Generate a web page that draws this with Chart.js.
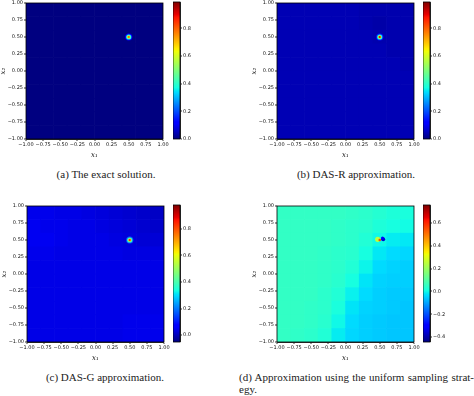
<!DOCTYPE html>
<html>
<head>
<meta charset="utf-8">
<script src="https://cdn.jsdelivr.net/npm/chart.js@4"></script>
<style>
body { margin: 0; background: #fff; width: 474px; height: 396px; position: relative; overflow: hidden; }
canvas { position: absolute; }
.cap { position: absolute; font-family: 'Liberation Serif', serif; font-size: 11px; line-height: 12px; color: #222; white-space: nowrap; }
</style>
</head>
<body>
<div class="cap" style="left:106px;top:168px;transform:translateX(-50%)">(a) The exact solution.</div>
<div class="cap" style="left:356px;top:168px;transform:translateX(-50%)">(b) DAS-R approximation.</div>
<div class="cap" style="left:105px;top:371px;transform:translateX(-50%)">(c) DAS-G approximation.</div>
<div class="cap" style="left:239px;top:371px;width:235px;text-align:justify;text-align-last:justify">(d) Approximation using the uniform sampling strat-</div>
<div class="cap" style="left:239px;top:383px">egy.</div>
<script>
// axes ticks (x1, x2 share the same labels)
const axisTicks = [-1, -0.75, -0.5, -0.25, 0, 0.25, 0.5, 0.75, 1];
const axisLabels = ['−1.00', '−0.75', '−0.50', '−0.25', '0.00', '0.25', '0.50', '0.75', '1.00'];

// cell centres of the coarse grid
const cellX = [-0.9, -0.7, -0.5, -0.3, -0.1, 0.1, 0.3, 0.5, 0.7, 0.9];
const cellY = [0.9, 0.7, 0.5, 0.3, 0.1, -0.1, -0.3, -0.5, -0.7, -0.9];

// (a) exact solution
const gridA = [
  [0, 0, 0, 0, 0, 0, 0, 0, 0, 0],
  [0, 0, 0, 0, 0, 0, 0, 0, 0, 0],
  [0, 0, 0, 0, 0, 0, 0, 0, 0, 0],
  [0, 0, 0, 0, 0, 0, 0, 0, 0, 0],
  [0, 0, 0, 0, 0, 0, 0, 0, 0, 0],
  [0, 0, 0, 0, 0, 0, 0, 0, 0, 0],
  [0, 0, 0, 0, 0, 0, 0, 0, 0, 0],
  [0, 0, 0, 0, 0, 0, 0, 0, 0, 0],
  [0, 0, 0, 0, 0, 0, 0, 0, 0, 0],
  [0, 0, 0, 0, 0, 0, 0, 0, 0, 0]
];
// (b) DAS-R
const gridB = [
  [0.045, 0.045, 0.045, 0.045, 0.045, 0.045, 0.04, 0.04, 0.04, 0.04],
  [0.045, 0.045, 0.045, 0.045, 0.045, 0.045, 0.04, 0.035, 0.04, 0.04],
  [0.045, 0.045, 0.045, 0.045, 0.045, 0.045, 0.045, 0.04, 0.04, 0.04],
  [0.045, 0.045, 0.045, 0.045, 0.045, 0.045, 0.045, 0.045, 0.04, 0.04],
  [0.045, 0.045, 0.045, 0.045, 0.045, 0.045, 0.045, 0.045, 0.045, 0.04],
  [0.045, 0.045, 0.045, 0.045, 0.045, 0.045, 0.045, 0.045, 0.045, 0.045],
  [0.045, 0.045, 0.045, 0.045, 0.045, 0.045, 0.045, 0.045, 0.045, 0.045],
  [0.045, 0.045, 0.045, 0.045, 0.045, 0.045, 0.045, 0.045, 0.045, 0.045],
  [0.045, 0.045, 0.045, 0.045, 0.045, 0.045, 0.045, 0.045, 0.045, 0.045],
  [0.045, 0.045, 0.045, 0.045, 0.045, 0.045, 0.045, 0.045, 0.045, 0.045]
];
// (c) DAS-G
const gridC = [
  [0.045, 0.045, 0.04, 0.04, 0.035, 0.03, 0.025, 0.02, 0.015, 0.01],
  [0.05, 0.045, 0.045, 0.04, 0.04, 0.035, 0.03, 0.025, 0.02, 0.015],
  [0.05, 0.05, 0.045, 0.04, 0.04, 0.04, 0.035, 0.03, 0.025, 0.025],
  [0.045, 0.045, 0.04, 0.04, 0.04, 0.04, 0.04, 0.035, 0.035, 0.035],
  [0.04, 0.04, 0.04, 0.04, 0.04, 0.04, 0.04, 0.04, 0.04, 0.04],
  [0.04, 0.04, 0.04, 0.04, 0.04, 0.04, 0.04, 0.04, 0.04, 0.04],
  [0.04, 0.04, 0.04, 0.04, 0.04, 0.04, 0.04, 0.04, 0.04, 0.04],
  [0.04, 0.04, 0.04, 0.04, 0.04, 0.04, 0.04, 0.04, 0.04, 0.04],
  [0.04, 0.04, 0.04, 0.04, 0.04, 0.04, 0.04, 0.045, 0.045, 0.045],
  [0.04, 0.04, 0.04, 0.04, 0.04, 0.04, 0.04, 0.045, 0.045, 0.045]
];
// (d) uniform sampling
const gridD = [
  [0.05, 0.05, 0.05, 0.05, 0.05, 0.045, 0.04, 0.03, 0.02, 0.015],
  [0.05, 0.05, 0.05, 0.05, 0.045, 0.04, 0.035, 0.02, 0.01, 0.005],
  [0.05, 0.05, 0.05, 0.05, 0.045, 0.04, 0.025, 0.0, -0.015, -0.02],
  [0.05, 0.05, 0.05, 0.045, 0.04, 0.035, 0.01, -0.02, -0.035, -0.04],
  [0.05, 0.05, 0.05, 0.045, 0.04, 0.025, -0.005, -0.035, -0.045, -0.05],
  [0.05, 0.05, 0.05, 0.045, 0.035, 0.01, -0.025, -0.045, -0.05, -0.05],
  [0.05, 0.05, 0.05, 0.04, 0.025, -0.01, -0.035, -0.05, -0.055, -0.055],
  [0.05, 0.05, 0.045, 0.04, 0.015, -0.025, -0.045, -0.05, -0.055, -0.06],
  [0.05, 0.05, 0.045, 0.035, 0.0, -0.035, -0.05, -0.055, -0.06, -0.06],
  [0.05, 0.045, 0.04, 0.025, -0.015, -0.04, -0.05, -0.055, -0.06, -0.06]
];

// the sharp peak at (0.5, 0.5)
const spikeXA = [0.5, 0.5, 0.5, 0.5], spikeYA = [0.5, 0.5, 0.5, 0.5], spikeVA = [0.12, 0.38, 0.62, 0.8];
const spikeXB = [0.5, 0.5, 0.5, 0.5], spikeYB = [0.5, 0.5, 0.5, 0.5], spikeVB = [0.15, 0.38, 0.65, 0.9];
const spikeXC = [0.5, 0.5, 0.5, 0.5], spikeYC = [0.5, 0.5, 0.5, 0.5], spikeVC = [0.17, 0.38, 0.65, 0.85];
const spikeXD = [0.47, 0.55, 0.54, 0.5], spikeYD = [0.51, 0.51, 0.53, 0.5], spikeVD = [0.25, -0.35, -0.3, 0.55];

// colour bar ranges and ticks
const cbRangeA = [0, 0.99], cbTicksA = [0, 0.2, 0.4, 0.6, 0.8], cbLabelsA = ['0.0', '0.2', '0.4', '0.6', '0.8'];
const cbRangeB = [0, 0.99], cbTicksB = [0, 0.2, 0.4, 0.6, 0.8], cbLabelsB = ['0.0', '0.2', '0.4', '0.6', '0.8'];
const cbRangeC = [-0.052, 0.98], cbTicksC = [0, 0.2, 0.4, 0.6, 0.8], cbLabelsC = ['0.0', '0.2', '0.4', '0.6', '0.8'];
const cbRangeD = [-0.443, 0.757], cbTicksD = [-0.4, -0.2, 0, 0.2, 0.4, 0.6], cbLabelsD = ['−0.4', '−0.2', '0.0', '0.2', '0.4', '0.6'];

// matplotlib "jet"
const jetR = [[0, 0], [0.35, 0], [0.66, 1], [0.89, 1], [1, 0.5]];
const jetG = [[0, 0], [0.125, 0], [0.375, 1], [0.64, 1], [0.91, 0], [1, 0]];
const jetB = [[0, 0.5], [0.11, 1], [0.34, 1], [0.65, 0], [1, 0]];
function seg(s, t) {
  for (let i = 1; i < s.length; i++) {
    if (t <= s[i][0]) {
      const f = (t - s[i - 1][0]) / (s[i][0] - s[i - 1][0]);
      return s[i - 1][1] + f * (s[i][1] - s[i - 1][1]);
    }
  }
  return s[s.length - 1][1];
}
function jet(t) {
  t = Math.max(0, Math.min(1, t));
  return 'rgb(' + Math.round(255 * seg(jetR, t)) + ',' + Math.round(255 * seg(jetG, t)) + ',' + Math.round(255 * seg(jetB, t)) + ')';
}

const tickFont = { family: 'DejaVu Sans', size: 5 };
const titleFont = { family: 'DejaVu Serif', style: 'italic', size: 7 };

const frame = {
  id: 'frame',
  afterDatasetsDraw(chart) {
    const a = chart.chartArea, c = chart.ctx;
    c.save();
    c.strokeStyle = '#000';
    c.lineWidth = 0.8;
    c.strokeRect(a.left, a.top, a.right - a.left, a.bottom - a.top);
    c.restore();
  }
};

function axisOpts(title, isX) {
  return {
    type: 'linear', min: -1, max: 1, offset: false,
    afterBuildTicks: s => { s.ticks = axisTicks.map(v => ({ value: v })); },
    afterFit: s => {
      if (isX) s.height = 22; else s.width = 27;
      s.paddingLeft = s.paddingRight = s.paddingTop = s.paddingBottom = 0;
    },
    ticks: { callback: (v, i) => axisLabels[i], font: tickFont, color: '#111', padding: 1, autoSkip: false, maxRotation: 0, minRotation: 0 },
    // lineWidth 0 so bars touching 0 are not pulled back from a grid line
    grid: { drawOnChartArea: false, lineWidth: 0, tickWidth: 0.8, tickLength: 2, tickColor: '#000', offset: false },
    border: { color: '#000', width: 0.8 },
    title: { display: true, text: title, font: titleFont, color: '#111', padding: { top: 0, bottom: isX ? 2 : 0 } }
  };
}

function addCanvas(left, top, w, h) {
  const cv = document.createElement('canvas');
  cv.width = w; cv.height = h;
  cv.style.left = left + 'px'; cv.style.top = top + 'px';
  document.body.appendChild(cv);
  return cv;
}

function heatmap(L, T, grid, range, sx, sy, sv, radii) {
  const [vmin, vmax] = range;
  const col = v => jet((v - vmin) / (vmax - vmin));
  const cells = [], colors = [];
  cellY.forEach((yc, r) => cellX.forEach((xc, c) => {
    cells.push({ x: xc, y: [yc - 0.1, yc + 0.1] });
    colors.push(col(grid[r][c]));
  }));
  const spike = sx.map((x, i) => ({ x: x, y: sy[i] }));
  new Chart(addCanvas(L - 27, T - 3, 170, 162), {
    type: 'bar',
    data: {
      datasets: [
        { type: 'scatter', data: spike, order: 1, pointRadius: radii, pointBorderWidth: 0, backgroundColor: sv.map(col) },
        { data: cells, order: 2, backgroundColor: colors, borderWidth: 0, categoryPercentage: 1, barPercentage: 1 }
      ]
    },
    options: {
      responsive: false, animation: false, events: [],
      layout: { padding: { top: 3, right: 6, left: 0, bottom: 0 } },
      plugins: { legend: { display: false }, tooltip: { enabled: false } },
      scales: { x: axisOpts('x₁', true), y: axisOpts('x₂', false) }
    },
    plugins: [frame]
  });
}

function colorbar(left, T, range, ticks, labels) {
  const [vmin, vmax] = range;
  new Chart(addCanvas(left, T - 3, 31, 162), {
    type: 'bar',
    data: {
      labels: [''],
      datasets: [{
        data: [[vmin, vmax]],
        backgroundColor: ctx => {
          const a = ctx.chart.chartArea;
          if (!a) return '#000080';
          const g = ctx.chart.ctx.createLinearGradient(0, a.bottom, 0, a.top);
          [0, 0.11, 0.125, 0.34, 0.35, 0.375, 0.64, 0.65, 0.66, 0.89, 0.91, 1].forEach(t => g.addColorStop(t, jet(t)));
          return g;
        },
        borderWidth: 0, categoryPercentage: 1, barPercentage: 1
      }]
    },
    options: {
      responsive: false, animation: false, events: [],
      layout: { padding: { top: 3, bottom: 22, left: 0, right: 0 } },
      plugins: { legend: { display: false }, tooltip: { enabled: false } },
      scales: {
        x: { display: false },
        y: {
          position: 'right', min: vmin, max: vmax,
          afterBuildTicks: s => { s.ticks = ticks.map(v => ({ value: v })); },
          afterFit: s => { s.width = 24; s.paddingTop = s.paddingBottom = 0; },
          ticks: { callback: (v, i) => labels[i], font: tickFont, color: '#111', padding: 1, autoSkip: false },
          grid: { drawOnChartArea: false, lineWidth: 0, tickWidth: 0.8, tickLength: 2, tickColor: '#000' },
          border: { color: '#000', width: 0.8 }
        }
      }
    },
    plugins: [frame]
  });
}

const spikeRadii = [3.6, 2.6, 1.6, 1.1];
const spikeRadiiD = [2.6, 2, 1.5, 1.3];

heatmap(26, 2, gridA, cbRangeA, spikeXA, spikeYA, spikeVA, spikeRadii);
colorbar(173, 2, cbRangeA, cbTicksA, cbLabelsA);
heatmap(277, 2, gridB, cbRangeB, spikeXB, spikeYB, spikeVB, spikeRadii);
colorbar(423, 2, cbRangeB, cbTicksB, cbLabelsB);
heatmap(27, 205, gridC, cbRangeC, spikeXC, spikeYC, spikeVC, spikeRadii);
colorbar(173, 205, cbRangeC, cbTicksC, cbLabelsC);
heatmap(277, 205, gridD, cbRangeD, spikeXD, spikeYD, spikeVD, spikeRadiiD);
colorbar(423, 205, cbRangeD, cbTicksD, cbLabelsD);
</script>
</body>
</html>
